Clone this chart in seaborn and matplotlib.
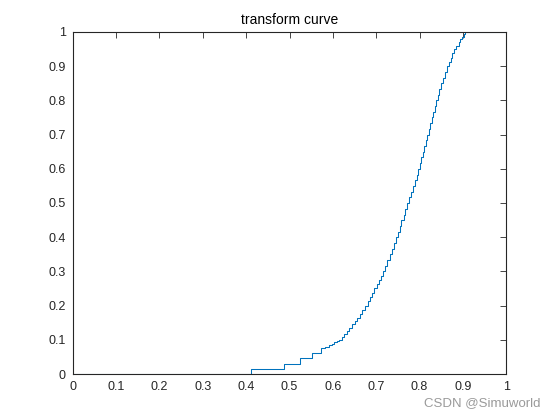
import matplotlib
matplotlib.use("Agg")
import matplotlib.pyplot as plt
import seaborn as sns

# step points of the transform curve
x_in = [0, 0.41, 0.487, 0.524, 0.552, 0.573, 0.583, 0.59, 0.597, 0.603,
        0.609, 0.614, 0.62, 0.626, 0.632, 0.638, 0.644, 0.65, 0.656, 0.662,
        0.668, 0.674, 0.68, 0.685, 0.69, 0.696, 0.701, 0.706, 0.711, 0.716,
        0.721, 0.726, 0.731, 0.736, 0.741, 0.746, 0.75, 0.754, 0.758, 0.763,
        0.767, 0.771, 0.775, 0.78, 0.784, 0.789, 0.793, 0.797, 0.8, 0.804,
        0.807, 0.811, 0.814, 0.818, 0.821, 0.825, 0.828, 0.832, 0.835, 0.838,
        0.842, 0.846, 0.85, 0.855, 0.859, 0.864, 0.868, 0.872, 0.876, 0.88,
        0.885, 0.89, 0.894, 0.898, 0.902, 0.905, 1.0]
y_out = [0, 0.015, 0.03, 0.047, 0.06, 0.075, 0.08, 0.085, 0.089, 0.093,
         0.097, 0.10, 0.108, 0.117, 0.126, 0.135, 0.145, 0.155, 0.165, 0.176,
         0.188, 0.20, 0.212, 0.225, 0.237, 0.25, 0.262, 0.275, 0.287, 0.30,
         0.316, 0.333, 0.35, 0.366, 0.383, 0.40, 0.416, 0.433, 0.45, 0.466,
         0.483, 0.50, 0.516, 0.533, 0.55, 0.566, 0.583, 0.60, 0.616, 0.633,
         0.65, 0.666, 0.683, 0.70, 0.716, 0.733, 0.75, 0.766, 0.783, 0.80,
         0.816, 0.833, 0.85, 0.866, 0.883, 0.90, 0.912, 0.925, 0.937, 0.95,
         0.96, 0.97, 0.978, 0.985, 0.993, 1.0, 1.0]
ticks = [0, 0.1, 0.2, 0.3, 0.4, 0.5, 0.6, 0.7, 0.8, 0.9, 1]
tick_labels = ["0", "0.1", "0.2", "0.3", "0.4", "0.5", "0.6", "0.7", "0.8", "0.9", "1"]

sns.set_style("white")
plt.rcParams['font.family'] = ['Liberation Sans', 'DejaVu Sans']

fig = plt.figure(figsize=(5.6, 4.2), dpi=100)
ax = fig.add_axes([0.130, 0.1095, 0.774, 0.8145])

sns.lineplot(x=x_in, y=y_out, ax=ax, color="#0072BD", linewidth=0.75,
             drawstyle="steps-post", sort=False)

ax.set_xlim(0, 1)
ax.set_ylim(0, 1)
ax.set_xticks(ticks)
ax.set_xticklabels(tick_labels)
ax.set_yticks(ticks)
ax.set_yticklabels(tick_labels)
ax.tick_params(direction="in", length=4, width=0.6, top=True, right=True,
               labelsize=9, colors="#262626", pad=5)
for s in ax.spines.values():
    s.set_visible(True)
    s.set_color("#262626")
    s.set_linewidth(0.8)

ax.set_title("transform curve", fontsize=10, color="black", pad=6)

fig.text(0.965, 0.025, "CSDN @Simuworld", ha="right", va="bottom",
         fontsize=9.5, color="#9a9a9a")

fig.savefig("out.png", dpi=100)
